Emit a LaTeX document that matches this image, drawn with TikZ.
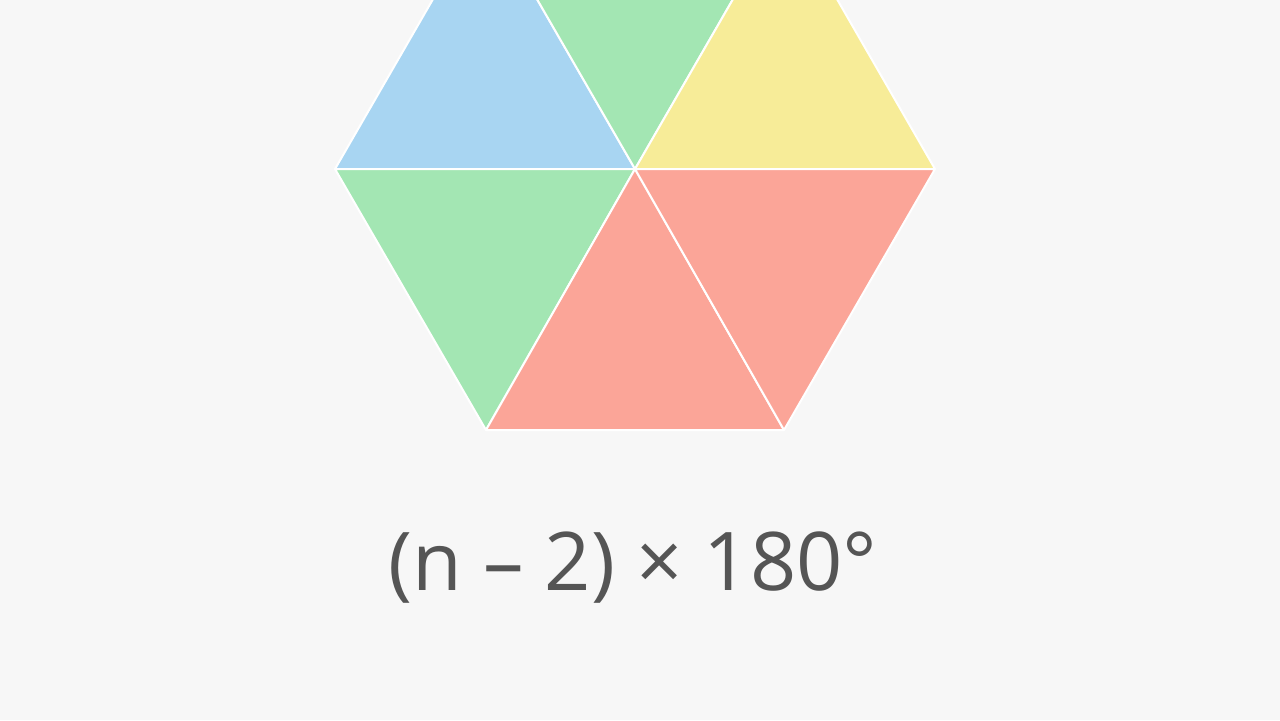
\documentclass[tikz,border=0pt]{standalone}
\usepackage{fontspec}
\setmainfont{Open Sans}
\usepackage{xcolor}
\definecolor{bgcol}{HTML}{F7F7F7}
\definecolor{skyblue}{HTML}{A8D5F2}
\definecolor{mint}{HTML}{A3E6B3}
\definecolor{lemon}{HTML}{F7EC98}
\definecolor{salmon}{HTML}{FBA598}
\definecolor{inkgray}{HTML}{555555}

\begin{document}
\begin{tikzpicture}[
    x=0.5pt, y=-0.5pt,
    wedge/.style={draw=white, line width=1pt, line join=round},
    formula/.style={font=\fontsize{40.5}{48}\selectfont, text=inkgray, inner sep=0pt}
]

% Background and frame
\fill[bgcol] (0,0) rectangle (1280,720);
\useasboundingbox (0,0) rectangle (1280,720);
\clip (0,0) rectangle (1280,720);

% Hexagon corners
\coordinate (c) at (635,169);
\coordinate (v0) at (935,169);
\coordinate (v1) at (785,-91);
\coordinate (v2) at (485,-91);
\coordinate (v3) at (335,169);
\coordinate (v4) at (486,430);
\coordinate (v5) at (784,430);

% Six triangles
\filldraw[wedge, fill=skyblue] (c) -- (v2) -- (v3) -- cycle;
\filldraw[wedge, fill=mint] (c) -- (v1) -- (v2) -- cycle;
\filldraw[wedge, fill=lemon] (c) -- (v0) -- (v1) -- cycle;
\filldraw[wedge, fill=mint] (c) -- (v3) -- (v4) -- cycle;
\filldraw[wedge, fill=salmon] (c) -- (v4) -- (v5) -- cycle;
\filldraw[wedge, fill=salmon] (c) -- (v5) -- (v0) -- cycle;

% Formula
\node[formula, anchor=base] (angles) at (633,590) {(n – 2) × 180°};

\end{tikzpicture}
\end{document}
